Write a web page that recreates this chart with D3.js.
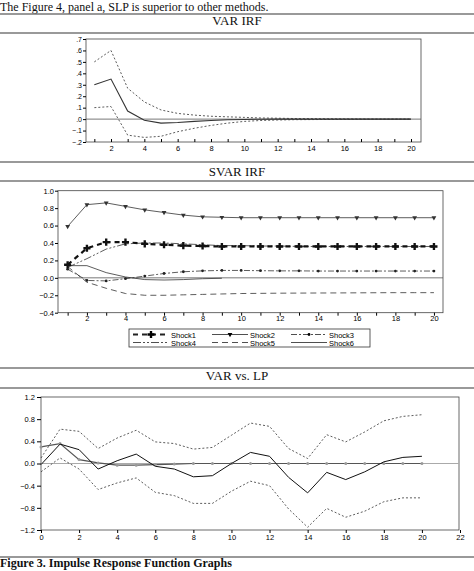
<!DOCTYPE html><html><head><meta charset="utf-8">
<script src="https://cdn.jsdelivr.net/npm/d3@7"></script>
<style>body{margin:0;background:#fff}svg{display:block}</style></head><body>
<script>
const xs1 = d3.range(1,21);
const varMid = [0.30,0.35,0.07,-0.01,-0.035,-0.03,-0.02,-0.012,-0.006,-0.003,-0.001,0,0,0,0,0,0,0,0,0];
const varUp  = [0.50,0.60,0.27,0.15,0.08,0.05,0.035,0.025,0.02,0.015,0.01,0.008,0.005,0.004,0.003,0.002,0.001,0,0,0];
const varLo  = [0.10,0.11,-0.14,-0.16,-0.15,-0.11,-0.08,-0.055,-0.035,-0.02,-0.012,-0.008,-0.005,-0.004,-0.003,-0.002,-0.001,0,0,0];
const shock1 = [0.15,0.34,0.41,0.41,0.39,0.38,0.37,0.365,0.36,0.36,0.36,0.36,0.36,0.36,0.36,0.36,0.36,0.36,0.36,0.36];
const shock2 = [0.59,0.84,0.86,0.82,0.78,0.75,0.72,0.70,0.695,0.69,0.69,0.69,0.69,0.69,0.69,0.69,0.69,0.69,0.69,0.69];
const shock3 = [0.10,-0.03,-0.035,-0.01,0.02,0.05,0.07,0.08,0.085,0.085,0.082,0.08,0.08,0.078,0.078,0.078,0.078,0.078,0.078,0.078];
const shock4 = [0.12,0.22,0.33,0.39,0.40,0.40,0.39,0.38,0.37,0.37,0.365,0.365,0.36,0.36,0.36,0.36,0.36,0.36,0.36,0.36];
const shock5 = [0.13,-0.05,-0.12,-0.18,-0.20,-0.20,-0.195,-0.19,-0.185,-0.18,-0.178,-0.176,-0.175,-0.174,-0.173,-0.172,-0.171,-0.17,-0.17,-0.17];
const shock6 = [0.14,0.14,0.06,0.01,-0.02,-0.025,-0.02,-0.01,-0.005];
const xs3 = d3.range(0,21);
const lpMid = [-0.02,0.35,0.25,-0.10,0.05,0.17,-0.05,-0.10,-0.24,-0.22,0.0,0.20,0.13,-0.25,-0.53,-0.16,-0.29,-0.15,0.03,0.11,0.13];
const lpUp  = [0.10,0.62,0.58,0.27,0.46,0.60,0.39,0.36,0.26,0.29,0.51,0.73,0.67,0.27,0.09,0.52,0.39,0.57,0.77,0.85,0.88];
const lpLo  = [-0.15,0.10,-0.10,-0.47,-0.35,-0.26,-0.52,-0.58,-0.72,-0.72,-0.50,-0.32,-0.40,-0.82,-1.15,-0.81,-0.97,-0.86,-0.69,-0.62,-0.62];
const varLP = [0.30,0.36,0.07,0.01,-0.03,-0.03,-0.02,-0.01,0,0,0,0,0,0,0,0,0,0,0,0,0];
const titles = ["VAR IRF","SVAR IRF","VAR vs. LP"];
const caption = "Figure 3. Impulse Response Function Graphs";
const intro = "The Figure 4, panel a, SLP is superior to other methods.";

const svg = d3.select("body").append("svg").attr("width",474).attr("height",571);
const serif = "'Liberation Serif','Times New Roman',serif", sans="'Liberation Sans',Arial,sans-serif";
function hr(y,w){svg.append("line").attr("x1",0).attr("x2",474).attr("y1",y).attr("y2",y).attr("stroke","#777").attr("stroke-width",w||1.3);}
function txt(x,y,s,o){const t=svg.append("text").attr("x",x).attr("y",y).text(s).attr("font-family",serif).attr("font-size",13).attr("fill","#111");if(o)for(const k in o)t.attr(k,o[k]);return t;}
txt(0,11,intro,{"font-size":12});
hr(14);txt(237,25,titles[0],{"text-anchor":"middle"});hr(33);
hr(162);txt(237,176,titles[1],{"text-anchor":"middle"});hr(181);
hr(368);txt(237,380,titles[2],{"text-anchor":"middle"});hr(388);
hr(557);txt(0,567,caption,{"font-weight":"bold","font-size":12});

function frame(x0,x1,y0,y1){svg.append("rect").attr("x",x0).attr("y",y0).attr("width",x1-x0).attr("height",y1-y0).attr("fill","none").attr("stroke","#444").attr("stroke-width",0.8);}
function line(x,y,xsd,data,o){const g=d3.line().x((d,i)=>x(xsd[i])).y(d=>y(d));const p=svg.append("path").attr("d",g(data)).attr("fill","none").attr("stroke","#333").attr("stroke-width",0.8);for(const k in o)p.attr(k,o[k]);return p;}

// Panel 1
{const x=d3.scaleLinear().domain([0.5,20.6]).range([86,421]);const y=d3.scaleLinear().domain([-0.2,0.7]).range([142,39]);
frame(86,421,39,142);
svg.append("g").attr("transform","translate(86,0)").call(d3.axisLeft(y).tickValues(d3.range(-2,8).map(v=>v/10)).tickSize(3).tickFormat(v=>d3.format(".1f")(v).replace("0.",".").replace("-0.","-.")))
 .call(g=>{g.select(".domain").remove();g.selectAll("text").attr("font-family",sans).attr("font-size",7).attr("x",-4);});
svg.append("g").attr("transform","translate(0,142)").call(d3.axisBottom(x).tickValues(d3.range(1,21)).tickSize(-3).tickFormat(v=>v%2?"":v))
 .call(g=>{g.select(".domain").remove();g.selectAll("text").attr("font-family",sans).attr("font-size",7.5).attr("dy",6);});
svg.append("line").attr("x1",86).attr("x2",421).attr("y1",y(0)).attr("y2",y(0)).attr("stroke","#555").attr("stroke-width",0.8);
line(x,y,xs1,varUp,{"stroke-dasharray":"2,2"});line(x,y,xs1,varLo,{"stroke-dasharray":"2,2"});line(x,y,xs1,varMid,{"stroke-width":1.1});}

// Panel 2
{const x=d3.scaleLinear().domain([0.5,20.47]).range([58,443]);const y=d3.scaleLinear().domain([-0.4,1.0]).range([312.7,190.7]);
frame(58,443,190.7,312.7);
svg.append("g").attr("transform","translate(58,0)").call(d3.axisLeft(y).tickValues(d3.range(-4,11,2).map(v=>v/10)).tickSize(3).tickFormat(d3.format(".1f")))
 .call(g=>{g.select(".domain").remove();g.selectAll("text").attr("font-family",sans).attr("font-size",7.5).attr("x",-4);});
svg.append("g").attr("transform","translate(0,312.7)").call(d3.axisBottom(x).tickValues(d3.range(1,21)).tickSize(3).tickFormat(v=>v%2?"":v))
 .call(g=>{g.select(".domain").remove();g.selectAll("text").attr("font-family",sans).attr("font-size",7.5).attr("dy",2);});
svg.append("line").attr("x1",58).attr("x2",443).attr("y1",y(0)).attr("y2",y(0)).attr("stroke","#555").attr("stroke-width",0.8);
line(x,y,xs1,shock5,{"stroke-dasharray":"6,4"});
line(x,y,xs1,shock4,{"stroke-dasharray":"8,2,2,2,2,2"});
line(x,y,xs1.slice(0,shock6.length),shock6,{});
line(x,y,xs1,shock3,{"stroke-dasharray":"6,2,2,2"});
svg.append("g").selectAll("circle").data(shock3).join("circle").attr("cx",(d,i)=>x(xs1[i])).attr("cy",d=>y(d)).attr("r",1.4).attr("fill","#222");
line(x,y,xs1,shock2,{});
svg.append("g").selectAll("path").data(shock2).join("path").attr("d",d3.symbol(d3.symbolTriangle,10)).attr("transform",(d,i)=>`translate(${x(xs1[i])},${y(d)}) rotate(180)`).attr("fill","#333");
line(x,y,xs1,shock1,{"stroke-dasharray":"5,4","stroke-width":2.2,"stroke":"#111"});
svg.append("g").selectAll("path").data(shock1).join("path").attr("d",d3.symbol(d3.symbolCross,28)).attr("transform",(d,i)=>`translate(${x(xs1[i])},${y(d)})`).attr("fill","#111");
const lg=svg.append("g");lg.append("rect").attr("x",129).attr("y",329).attr("width",241).attr("height",18).attr("fill","#fff").attr("stroke","#333").attr("stroke-width",0.8);
const items=[["Shock1",{"stroke-dasharray":"5,4","stroke-width":2.2},"cross"],["Shock2",{},"tri"],["Shock3",{"stroke-dasharray":"6,2,2,2"},"dot"],["Shock4",{"stroke-dasharray":"8,2,2,2,2,2"}],["Shock5",{"stroke-dasharray":"6,4"}],["Shock6",{}]];
items.forEach((it,i)=>{const cx=133+(i%3)*79,cy=334.5+Math.floor(i/3)*8;
 const l=lg.append("line").attr("x1",cx).attr("x2",cx+36).attr("y1",cy).attr("y2",cy).attr("stroke","#222").attr("stroke-width",0.8);for(const k in it[1])l.attr(k,it[1][k]);
 const m=cx+18;if(it[2]==="cross")lg.append("path").attr("d",d3.symbol(d3.symbolCross,28)).attr("transform",`translate(${m},${cy})`);
 if(it[2]==="tri")lg.append("path").attr("d",d3.symbol(d3.symbolTriangle,10)).attr("transform",`translate(${m},${cy}) rotate(180)`);
 if(it[2]==="dot")lg.append("circle").attr("cx",m).attr("cy",cy).attr("r",1.4);
 lg.append("text").attr("x",cx+38).attr("y",cy+3).text(it[0]).attr("font-family",sans).attr("font-size",7.5);});}

// Panel 3
{const x=d3.scaleLinear().domain([0,22]).range([41,460]);const y=d3.scaleLinear().domain([-1.2,1.2]).range([530,397]);
frame(41,459,397,530);
svg.append("g").attr("transform","translate(41,0)").call(d3.axisLeft(y).tickValues(d3.range(-12,13,4).map(v=>v/10)).tickSize(4).tickFormat(d3.format(".1f")))
 .call(g=>{g.select(".domain").remove();g.selectAll("text").attr("font-family",sans).attr("font-size",7.5).attr("x",-6);});
svg.append("g").attr("transform","translate(0,530)").call(d3.axisBottom(x).tickValues(d3.range(0,23,2)).tickSize(3))
 .call(g=>{g.select(".domain").remove();g.selectAll("text").attr("font-family",sans).attr("font-size",7.5).attr("y",5);});
svg.append("line").attr("x1",41).attr("x2",459).attr("y1",y(0)).attr("y2",y(0)).attr("stroke","#aaa").attr("stroke-width",1.2);
line(x,y,xs3,lpUp,{"stroke-dasharray":"2,2"});line(x,y,xs3,lpLo,{"stroke-dasharray":"2,2"});
line(x,y,xs3,varLP,{"stroke":"#555","stroke-width":1.2});
svg.append("g").selectAll("circle").data(varLP).join("circle").attr("cx",(d,i)=>x(xs3[i])).attr("cy",d=>y(d)).attr("r",1.5).attr("fill","#999");
line(x,y,xs3,lpMid,{"stroke":"#111","stroke-width":1});}
</script></body></html>
